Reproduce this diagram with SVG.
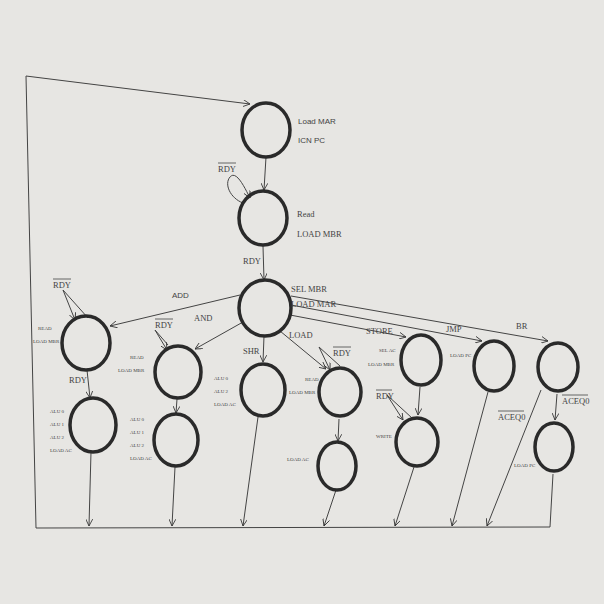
<svg xmlns="http://www.w3.org/2000/svg" width="604" height="604" viewBox="0 0 604 604">
<defs>
<marker id="ah" viewBox="0 0 10 10" refX="10" refY="5" markerWidth="7" markerHeight="7" orient="auto" markerUnits="userSpaceOnUse"><path d="M0,0 L10,5 L0,10" fill="none" stroke="#333" stroke-width="1.2"/></marker>
</defs>
<style>
.st{fill:none;stroke:#2a2a2a;stroke-width:3.5}
.c{fill:none;stroke:#444;stroke-width:1;marker-end:url(#ah)}
.l{fill:none;stroke:#444;stroke-width:1}
.s{font-family:"Liberation Serif",serif;font-size:5px;fill:#444}
.m{font-family:"Liberation Serif",serif;font-size:8.5px;fill:#444}
.n{font-family:"Liberation Sans",sans-serif;font-size:8px;fill:#444}
.ov{stroke:#444;stroke-width:0.8}
</style>
<rect width="604" height="604" fill="#e7e6e3"/>
<g id="connectors">
<path class="c" d="M36,528 L26,76 L250,104"/>
<path class="l" d="M36,528 L550,527 L553,474"/>
<path class="c" d="M266,157 L264,190"/>
<path class="c" d="M263,246 L264,280"/>
<path class="c" d="M240,295 L110,326"/>
<path class="c" d="M243,322 L195,349"/>
<path class="c" d="M264,336 L263,362"/>
<path class="c" d="M280,331 L326,369"/>
<path class="c" d="M290,315 L406,337"/>
<path class="c" d="M291,305 L482,341"/>
<path class="c" d="M291,296 L548,341"/>
<path class="c" d="M87,370 L90,398"/>
<path class="c" d="M177,399 L176,413"/>
<path class="c" d="M339,419 L338,441"/>
<path class="c" d="M420,387 L418,415"/>
<path class="c" d="M557,394 L555,420"/>
<path class="c" d="M91,452 L89,526"/>
<path class="c" d="M175,467 L172,526"/>
<path class="c" d="M258,417 L243,526"/>
<path class="c" d="M336,490 L324,526"/>
<path class="c" d="M414,467 L395,526"/>
<path class="c" d="M488,392 L452,526"/>
<path class="c" d="M541,390 L487,526"/>
<path class="c" d="M243,203 C230,198 224,184 230,177 C236,170 244,186 250,198"/>
<path class="c" d="M63,290 L75,320"/>
<path class="l" d="M63,290 L88,318"/>
<path class="c" d="M155,330 L167,350"/>
<path class="l" d="M155,330 L168,345"/>
<path class="c" d="M319,347 L330,370"/>
<path class="l" d="M319,347 L340,366"/>
<path class="c" d="M387,395 L403,420"/>
<path class="l" d="M387,395 L412,418"/>
</g>
<g id="n1"><ellipse class="st" cx="266" cy="130" rx="24" ry="27"/><text class="n" x="298" y="124">Load MAR</text><text class="n" x="298" y="143">ICN PC</text></g>
<g id="n2"><ellipse class="st" cx="263" cy="218" rx="24" ry="27"/><text class="m" x="297" y="217">Read</text><text class="m" x="297" y="237">LOAD MBR</text><text class="m" x="218" y="172">RDY</text><line class="ov" x1="218" y1="163" x2="236" y2="163"/><text class="m" x="243" y="264">RDY</text></g>
<g id="n3"><ellipse class="st" cx="265" cy="308" rx="26" ry="28"/><text class="m" x="291" y="292">SEL MBR</text><text class="m" x="291" y="307">LOAD MAR</text><text class="n" x="172" y="298">ADD</text><text class="m" x="194" y="321">AND</text><text class="m" x="243" y="354">SHR</text><text class="m" x="289" y="338">LOAD</text><text class="m" x="366" y="334">STORE</text><text class="m" x="446" y="332">JMP</text><text class="m" x="516" y="329">BR</text></g>
<g id="a1"><ellipse class="st" cx="86" cy="343" rx="24" ry="27"/><text class="m" x="53" y="288">RDY</text><line class="ov" x1="53" y1="279" x2="71" y2="279"/><text class="s" x="38" y="330">READ</text><text class="s" x="33" y="343">LOAD MBR</text><text class="m" x="69" y="383">RDY</text></g>
<g id="a2"><ellipse class="st" cx="93" cy="425" rx="23" ry="27"/><text class="s" x="50" y="413">ALU 0</text><text class="s" x="50" y="426">ALU 1</text><text class="s" x="50" y="439">ALU 2</text><text class="s" x="50" y="452">LOAD AC</text></g>
<g id="b1"><ellipse class="st" cx="178" cy="372" rx="23" ry="26"/><text class="m" x="155" y="328">RDY</text><line class="ov" x1="155" y1="319" x2="173" y2="319"/><text class="s" x="130" y="359">READ</text><text class="s" x="118" y="372">LOAD MBR</text></g>
<g id="b2"><ellipse class="st" cx="176" cy="440" rx="22" ry="26"/><text class="s" x="130" y="421">ALU 0</text><text class="s" x="130" y="434">ALU 1</text><text class="s" x="130" y="447">ALU 2</text><text class="s" x="130" y="460">LOAD AC</text></g>
<g id="c1"><ellipse class="st" cx="263" cy="390" rx="22" ry="26"/><text class="s" x="214" y="380">ALU 0</text><text class="s" x="214" y="393">ALU 2</text><text class="s" x="214" y="406">LOAD AC</text></g>
<g id="d1"><ellipse class="st" cx="340" cy="392" rx="21" ry="24"/><text class="m" x="333" y="356">RDY</text><line class="ov" x1="333" y1="347" x2="351" y2="347"/><text class="s" x="305" y="381">READ</text><text class="s" x="289" y="394">LOAD MBR</text></g>
<g id="d2"><ellipse class="st" cx="337" cy="466" rx="19" ry="24"/><text class="s" x="287" y="461">LOAD AC</text></g>
<g id="e1"><ellipse class="st" cx="421" cy="360" rx="20" ry="25"/><text class="s" x="379" y="352">SEL AC</text><text class="s" x="368" y="366">LOAD MBR</text></g>
<g id="e2"><ellipse class="st" cx="417" cy="442" rx="21" ry="24"/><text class="m" x="376" y="399">RDY</text><line class="ov" x1="376" y1="390" x2="392" y2="390"/><text class="s" x="376" y="438">WRITE</text></g>
<g id="f1"><ellipse class="st" cx="494" cy="366" rx="20" ry="25"/><text class="s" x="450" y="357">LOAD PC</text></g>
<g id="g1"><ellipse class="st" cx="558" cy="367" rx="20" ry="24"/><text class="m" x="562" y="404">ACEQ0</text><line class="ov" x1="562" y1="395" x2="588" y2="395"/><text class="m" x="498" y="420">ACEQ0</text><line class="ov" x1="498" y1="411" x2="524" y2="411"/></g>
<g id="g2"><ellipse class="st" cx="554" cy="447" rx="19" ry="24"/><text class="s" x="514" y="467">LOAD PC</text></g>
</svg>
